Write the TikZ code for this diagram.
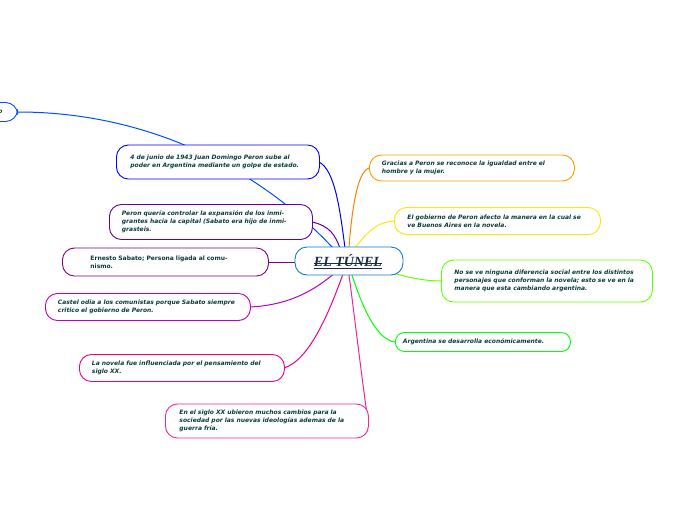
\documentclass[tikz,border=0pt]{standalone}
\usepackage{fontspec}
\setmainfont{DejaVu Sans}
\newfontfamily\titlefont{Liberation Serif}
\begin{document}
\begin{tikzpicture}[x=1pt,y=-1pt,line width=0.9pt,
  box/.style={draw,rounded corners=12pt,fill=white,inner sep=0pt,text=txt,align=left,font=\fontsize{6}{8}\selectfont\bfseries\itshape},
  edge/.style={line width=1pt}]
\definecolor{txt}{HTML}{0B3B3B}
\definecolor{ttl}{HTML}{1A2A4A}
\useasboundingbox (0,0) rectangle (696,520);
% connectors first
\draw[edge,color=blue!70!cyan] (18,112) .. controls (150,112) and (260,170) .. (333,248);
\draw[edge,color=blue] (319,162) .. controls (335,170) and (340,210) .. (345,248);
\draw[edge,color=violet!80!blue] (312,222) .. controls (330,226) and (335,235) .. (340,248);
\draw[edge,color=violet] (268,262) -- (296,262);
\draw[edge,color=violet!50!magenta] (250,307) .. controls (290,305) and (315,290) .. (336,272);
\draw[edge,color=magenta] (284,368) .. controls (310,360) and (330,310) .. (343,274);
\draw[edge,color=magenta!80!pink] (368,421) .. controls (362,380) and (355,320) .. (349,275);
\draw[edge,color=orange] (369,168) .. controls (357,172) and (352,210) .. (349,247);
\draw[edge,color=yellow!90!orange] (394,221) .. controls (375,222) and (365,235) .. (355,248);
\draw[edge,color=green!60!yellow] (441,281) .. controls (420,281) and (400,275) .. (390,272);
\draw[edge,color=green] (395,342) .. controls (375,340) and (360,300) .. (352,275);
% nodes
\node[box,draw=cyan!60!blue,minimum width=108pt,minimum height=28pt] (m) at (349,261) {};
\node[inner sep=0pt,text=ttl,font=\titlefont\fontsize{14}{16}\selectfont\bfseries\itshape] (mt) at (348,261) {EL TÚNEL};
\draw[ttl,line width=0.8pt] (mt.base west) ++(0,1.5) -- ([yshift=-1.5pt]mt.base east);
\draw[ttl,line width=0.8pt] ([yshift=3.5pt]mt.base west) -- ([yshift=3.5pt]mt.base east);
\node[box,draw=blue!70!cyan,minimum width=60pt,minimum height=19pt,anchor=east] (o) at (18,112) {\hspace*{36pt}o\hspace*{10pt}};
\node[box,draw=blue,minimum width=203pt,minimum height=34pt,anchor=west,text width=175pt] (n1) at (116,162)
  {4 de junio de 1943 Juan Domingo Peron sube al poder en Argentina mediante un golpe de estado.};
\node[box,draw=violet!80!blue,minimum width=203pt,minimum height=35pt,anchor=west,text width=178pt] (n2) at (109,222)
  {Peron quería controlar la expansión de los inmigrantes hacia la capital (Sabato era hijo de inmigrasteis.};
\node[box,draw=violet,minimum width=206pt,minimum height=28pt,anchor=west,text width=150pt,font=\fontsize{6}{8}\selectfont\bfseries] (n3) at (62,262)
  {Ernesto Sabato; Persona ligada al comunismo.};
\node[box,draw=violet!50!magenta,minimum width=205pt,minimum height=27pt,anchor=west,text width=180pt] (n4) at (45,307)
  {Castel odia a los comunistas porque Sabato siempre critico el gobierno de Peron.};
\node[box,draw=magenta,minimum width=205pt,minimum height=27pt,anchor=west,text width=180pt] (n5) at (79,368)
  {La novela fue influenciada por el pensamiento del siglo XX.};
\node[box,draw=magenta!80!pink,minimum width=203pt,minimum height=34pt,anchor=west,text width=175pt] (n6) at (165,421)
  {En el siglo XX ubieron muchos cambios para la sociedad por las nuevas ideologías ademas de la guerra fría.};
\node[box,draw=orange!80!yellow,minimum width=205pt,minimum height=26pt,anchor=west,text width=180pt] (r1) at (369,168)
  {Gracias a Peron se reconoce la igualdad entre el hombre y la mujer.};
\node[box,draw=yellow!90!orange,minimum width=206pt,minimum height=27pt,anchor=west,text width=180pt] (r2) at (394,221)
  {El gobierno de Peron afecto la manera en la cual se ve Buenos Aires en la novela.};
\node[box,draw=green!60!yellow,minimum width=211pt,minimum height=42pt,anchor=west,text width=185pt] (r3) at (441,281)
  {No se ve ninguna diferencia social entre los distintos personajes que conforman la novela; esto se ve en la manera que esta cambiando argentina.};
\node[box,draw=green,minimum width=175pt,minimum height=19pt,anchor=west,text width=160pt,rounded corners=9pt] (r4) at (395,342)
  {Argentina se desarrolla económicamente.};
\end{tikzpicture}
\end{document}
